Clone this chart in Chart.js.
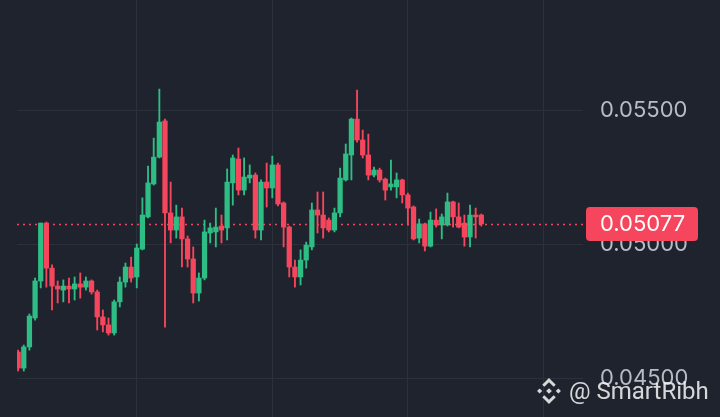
<!DOCTYPE html>
<html>
<head>
<meta charset="utf-8">
<script src="https://cdn.jsdelivr.net/npm/chart.js@4.4.1/dist/chart.umd.min.js"></script>
<style>
  html, body { margin: 0; padding: 0; background: #1f232d; }
  #wrap { width: 720px; height: 417px; position: relative; }
</style>
</head>
<body>
<div id="wrap"><canvas id="c"></canvas></div>
<script>
/* ===== data ===== */
const opens = [
  0.04599, 0.04539, 0.04618, 0.04726, 0.04864, 0.05080, 0.04912, 0.04845, 0.04830, 0.04845,
  0.04834, 0.04853, 0.04841, 0.04864, 0.04823, 0.04730, 0.04700, 0.04670, 0.04786, 0.04860,
  0.04916, 0.04879, 0.04983, 0.05103, 0.05226, 0.05326, 0.05461, 0.05118, 0.05054, 0.05103,
  0.05021, 0.04946, 0.04819, 0.04875, 0.05043, 0.05047, 0.05069, 0.05062, 0.05230, 0.05319,
  0.05203, 0.05248, 0.05259, 0.05054, 0.05233, 0.05211, 0.05297, 0.05155, 0.05065, 0.04916,
  0.04879, 0.04942, 0.04991, 0.05129, 0.05110, 0.05091, 0.05054, 0.05118, 0.05241, 0.05334,
  0.05468, 0.05390, 0.05334, 0.05259, 0.05278, 0.05244, 0.05215, 0.05215, 0.05241, 0.05185,
  0.05140, 0.05024, 0.05077, 0.04994, 0.05091, 0.05073, 0.05073, 0.05159, 0.05103, 0.05080,
  0.05028, 0.05110, 0.05110
];
const highs = [
  0.04606, 0.04625, 0.04741, 0.04875, 0.05080, 0.05084, 0.04924, 0.04864, 0.04868, 0.04875,
  0.04879, 0.04894, 0.04879, 0.04868, 0.04830, 0.04756, 0.04726, 0.04793, 0.04879, 0.04931,
  0.04953, 0.05002, 0.05174, 0.05293, 0.05397, 0.05580, 0.05468, 0.05233, 0.05147, 0.05136,
  0.05032, 0.04991, 0.04894, 0.05091, 0.05080, 0.05136, 0.05110, 0.05282, 0.05334, 0.05360,
  0.05323, 0.05297, 0.05267, 0.05241, 0.05304, 0.05330, 0.05304, 0.05159, 0.05069, 0.04942,
  0.04980, 0.05009, 0.05155, 0.05196, 0.05196, 0.05099, 0.05136, 0.05285, 0.05375, 0.05472,
  0.05576, 0.05427, 0.05412, 0.05289, 0.05285, 0.05248, 0.05315, 0.05267, 0.05244, 0.05192,
  0.05144, 0.05095, 0.05080, 0.05121, 0.05133, 0.05114, 0.05192, 0.05162, 0.05155, 0.05110,
  0.05147, 0.05136, 0.05114
];
const lows = [
  0.04528, 0.04528, 0.04606, 0.04718, 0.04838, 0.04841, 0.04756, 0.04782, 0.04786, 0.04782,
  0.04793, 0.04800, 0.04830, 0.04815, 0.04681, 0.04674, 0.04662, 0.04662, 0.04767, 0.04841,
  0.04860, 0.04838, 0.04980, 0.05099, 0.05222, 0.05323, 0.04692, 0.05006, 0.05024, 0.04916,
  0.04916, 0.04782, 0.04789, 0.04868, 0.05006, 0.04991, 0.05006, 0.05017, 0.05147, 0.05185,
  0.05185, 0.05230, 0.05024, 0.05017, 0.05140, 0.05174, 0.05144, 0.04991, 0.04879, 0.04841,
  0.04849, 0.04912, 0.04980, 0.05043, 0.05024, 0.05047, 0.05047, 0.05103, 0.05237, 0.05241,
  0.05382, 0.05323, 0.05241, 0.05252, 0.05233, 0.05166, 0.05203, 0.05174, 0.05155, 0.05073,
  0.05017, 0.05006, 0.04976, 0.04991, 0.05065, 0.05021, 0.05069, 0.05065, 0.05062, 0.04994,
  0.04991, 0.05024, 0.05069
];
const closes = [
  0.04539, 0.04618, 0.04733, 0.04864, 0.05080, 0.04912, 0.04845, 0.04834, 0.04845, 0.04834,
  0.04853, 0.04841, 0.04864, 0.04823, 0.04730, 0.04700, 0.04670, 0.04786, 0.04860, 0.04916,
  0.04875, 0.04987, 0.05110, 0.05230, 0.05326, 0.05457, 0.05118, 0.05054, 0.05103, 0.05021,
  0.04946, 0.04819, 0.04875, 0.05047, 0.05062, 0.05065, 0.05054, 0.05233, 0.05323, 0.05203,
  0.05252, 0.05259, 0.05054, 0.05233, 0.05211, 0.05297, 0.05151, 0.05065, 0.04916, 0.04879,
  0.04942, 0.04998, 0.05129, 0.05110, 0.05062, 0.05054, 0.05118, 0.05248, 0.05338, 0.05468,
  0.05390, 0.05334, 0.05259, 0.05278, 0.05241, 0.05203, 0.05226, 0.05241, 0.05185, 0.05136,
  0.05021, 0.05077, 0.04994, 0.05091, 0.05073, 0.05103, 0.05159, 0.05103, 0.05065, 0.05028,
  0.05110, 0.05103, 0.05077
];
const priceTicks = [0.045, 0.050, 0.055];
const timeGridAt = [21, 45, 69, 93]; // candle index of each vertical grid line
const watermark = "@ SmartRibh";

/* ===== look ===== */
const UP = "#2ebd85";
const DOWN = "#f6465d";
const GRID = "#2b303a";
const LABEL = "#b7bdc6";
const FONT = "Inter, 'DejaVu Sans', sans-serif";

const idx = opens.map((_, i) => i);
const wickData = idx.map(i => ({ x: i, y: [lows[i], highs[i]] }));
const bodyData = idx.map(i => ({ x: i, y: [opens[i], closes[i]] }));
const candleColor = ctx => (closes[ctx.dataIndex] >= opens[ctx.dataIndex] ? UP : DOWN);
const lastClose = closes[closes.length - 1];
const lastColor = lastClose >= opens[opens.length - 1] ? UP : DOWN;

// dotted line at the last price, under the candles; price tag over the axis
const priceLine = {
  id: "priceLine",
  beforeDatasetsDraw(chart) {
    const { ctx, chartArea } = chart;
    const y = Math.round(chart.scales.y.getPixelForValue(lastClose)) + 0.5;
    ctx.save();
    ctx.strokeStyle = lastColor;
    ctx.lineWidth = 1.5;
    ctx.setLineDash([2, 4]);
    ctx.beginPath();
    ctx.moveTo(chartArea.left, y);
    ctx.lineTo(chartArea.right, y);
    ctx.stroke();
    ctx.restore();
  },
  afterDraw(chart) {
    const { ctx, chartArea } = chart;
    const y = chart.scales.y.getPixelForValue(lastClose);
    const x0 = chartArea.right + 3, w = 112, h = 34;
    ctx.save();
    ctx.fillStyle = lastColor;
    ctx.beginPath();
    ctx.roundRect(x0, y - h / 2, w, h, 4);
    ctx.fill();
    ctx.fillStyle = "#ffffff";
    ctx.font = "22px " + FONT;
    ctx.textAlign = "left";
    ctx.textBaseline = "middle";
    ctx.fillText(lastClose.toFixed(5), chartArea.right + 17, y + 1);
    ctx.restore();
  }
};

function binanceLogo(ctx, cx, cy, r) {
  const poly = pts => {
    ctx.beginPath();
    pts.forEach(([px, py], k) => (k ? ctx.lineTo(cx + px * r, cy + py * r) : ctx.moveTo(cx + px * r, cy + py * r)));
    ctx.closePath();
    ctx.fill();
  };
  const diamond = (dx, s) => poly([[dx, -s], [dx + s, 0], [dx, s], [dx - s, 0]]);
  diamond(0, 0.22);
  diamond(-0.72, 0.2);
  diamond(0.72, 0.2);
  poly([[0, -1], [0.52, -0.48], [0.36, -0.32], [0, -0.68], [-0.36, -0.32], [-0.52, -0.48]]);
  poly([[0, 1], [0.52, 0.48], [0.36, 0.32], [0, 0.68], [-0.36, 0.32], [-0.52, 0.48]]);
}

const watermarkPlugin = {
  id: "watermark",
  afterDraw(chart) {
    const { ctx } = chart;
    ctx.save();
    ctx.fillStyle = "rgba(240,240,240,0.88)";
    binanceLogo(ctx, 549, 391, 13);
    ctx.font = "24px Roboto, sans-serif";
    ctx.textAlign = "left";
    ctx.textBaseline = "alphabetic";
    ctx.fillText(watermark, 569, 399);
    ctx.restore();
  }
};

new Chart(document.getElementById("c"), {
  type: "bar",
  data: {
    datasets: [
      { data: wickData, backgroundColor: candleColor, barThickness: 1.2, grouped: false, order: 2 },
      { data: bodyData, backgroundColor: candleColor, barThickness: 4.6, minBarLength: 1.5, grouped: false, order: 1 }
    ]
  },
  options: {
    responsive: true,
    maintainAspectRatio: false,
    animation: false,
    layout: { padding: { left: 17, right: 0, top: 0, bottom: 0 } },
    plugins: { legend: { display: false }, tooltip: { enabled: false } },
    scales: {
      x: {
        type: "linear",
        min: -0.2,
        max: 100,
        offset: false,
        grid: { color: GRID, drawTicks: false, offset: false },
        border: { display: false },
        ticks: { display: false },
        afterBuildTicks: s => { s.ticks = timeGridAt.map(v => ({ value: v })); },
        afterFit: s => { s.height = 0; s.paddingLeft = 0; s.paddingRight = 0; }
      },
      y: {
        position: "right",
        min: 0.043565,
        max: 0.059123,
        grid: { color: GRID, drawTicks: false },
        border: { display: false },
        ticks: {
          color: LABEL,
          padding: 17,
          font: { family: FONT, size: 22 },
          callback: v => Number(v).toFixed(5)
        },
        afterBuildTicks: s => { s.ticks = priceTicks.map(v => ({ value: v })); },
        afterFit: s => { s.width = 137; s.paddingTop = 0; s.paddingBottom = 0; }
      }
    }
  },
  plugins: [priceLine, watermarkPlugin]
});
</script>
</body>
</html>
